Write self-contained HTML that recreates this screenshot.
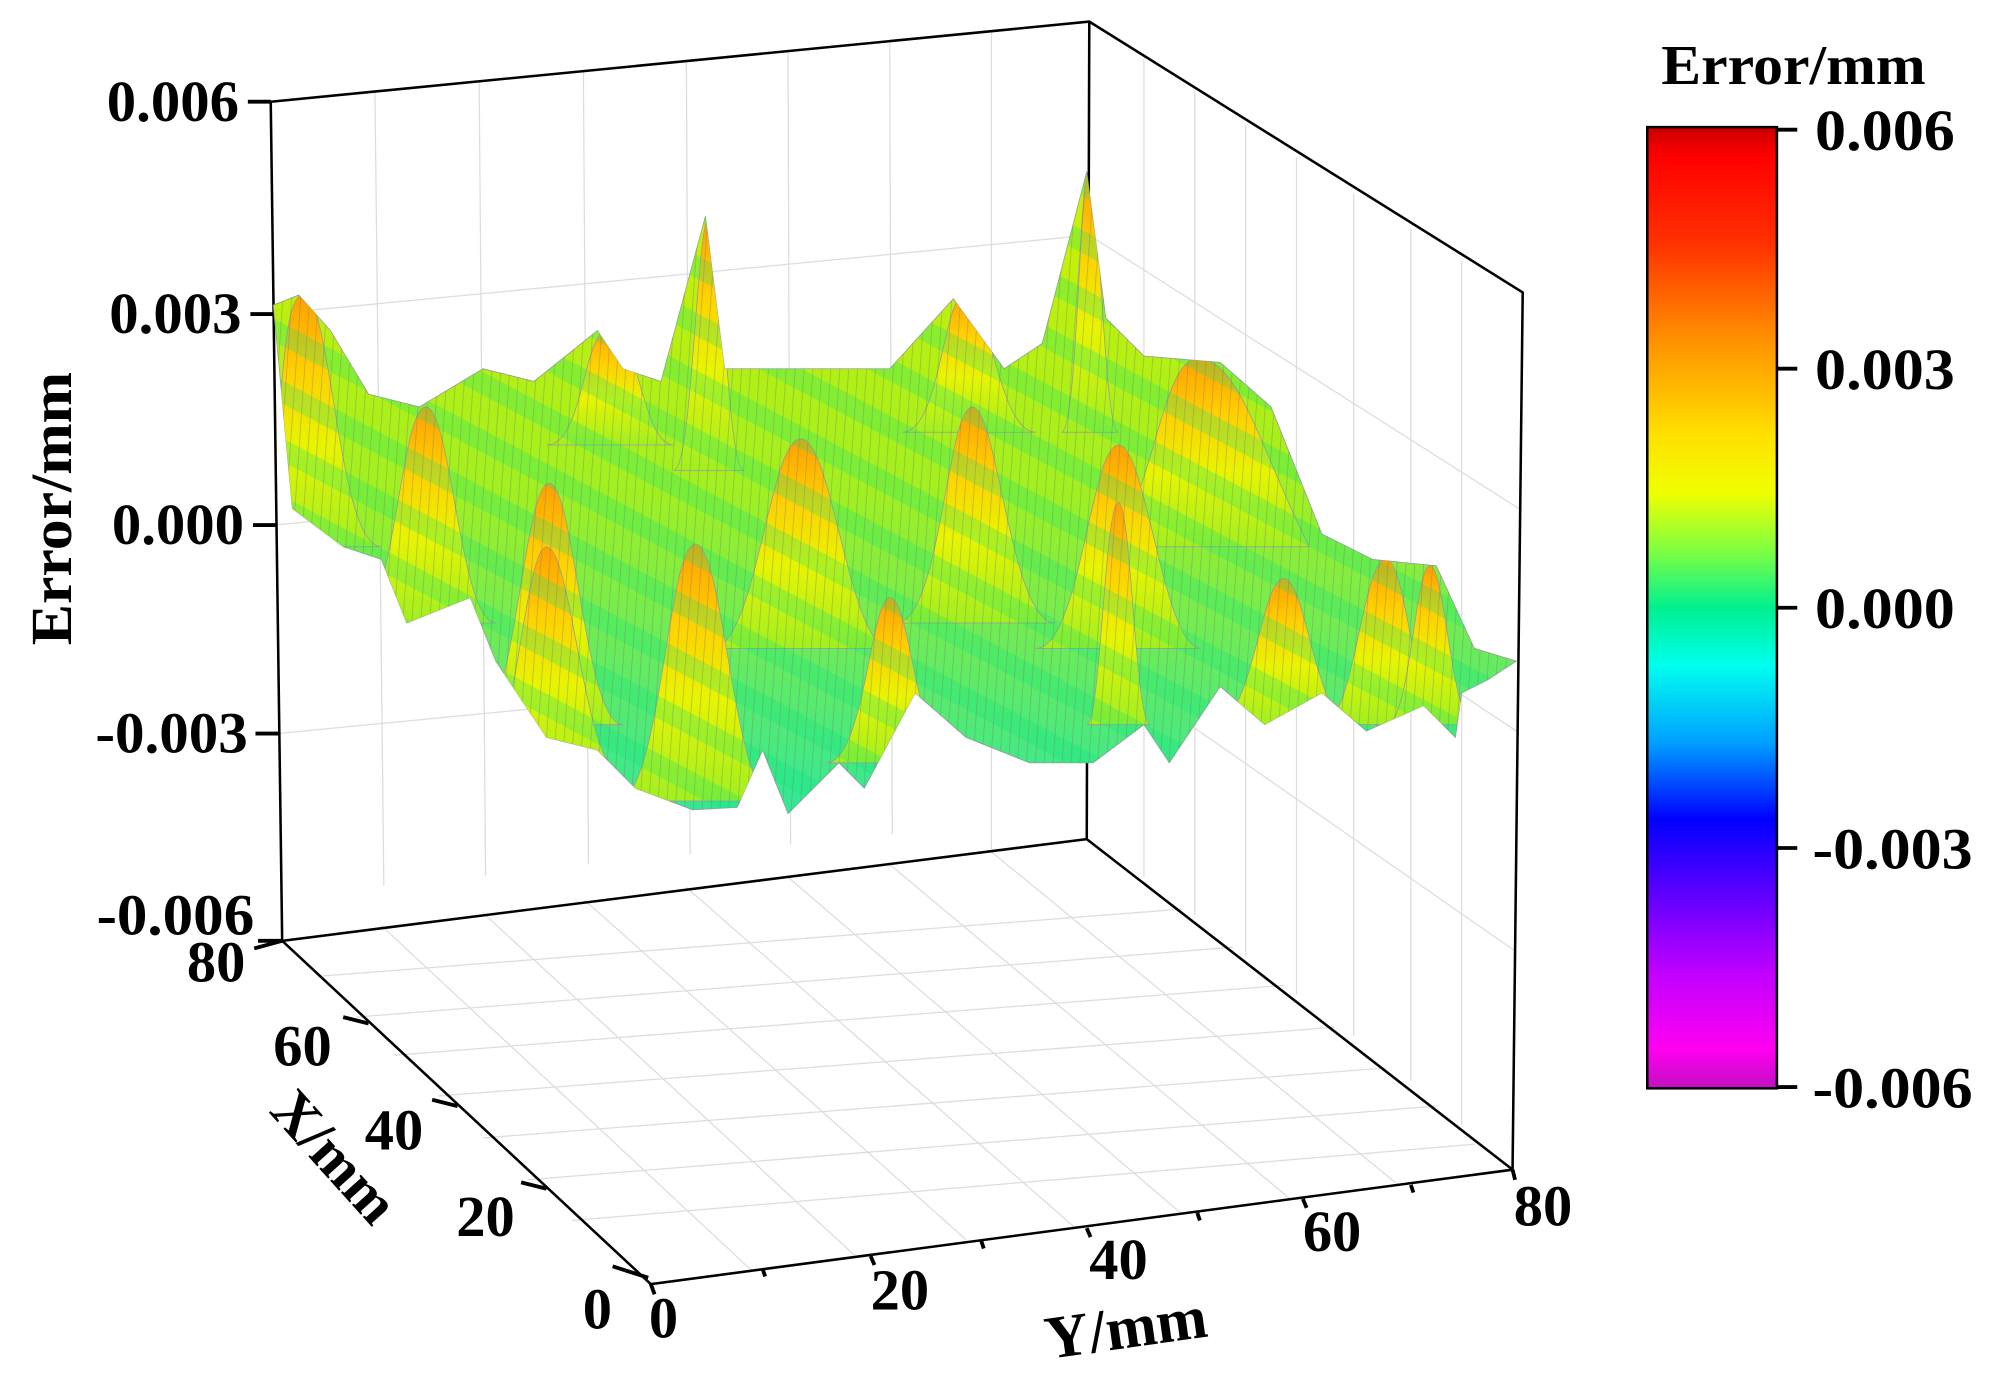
<!DOCTYPE html>
<html><head><meta charset="utf-8"><style>
html,body{margin:0;padding:0;background:#fff}
svg{display:block}
text{font-family:"Liberation Serif",serif;font-weight:bold;fill:#000}
</style></head><body>
<svg width="1993" height="1382" viewBox="0 0 1568 1087" preserveAspectRatio="none" xmlns="http://www.w3.org/2000/svg">
<defs>
<linearGradient id="cb" x1="0" y1="0" x2="0" y2="1">
<stop offset="0" stop-color="#c80000"/><stop offset="0.03" stop-color="#ff0000"/>
<stop offset="0.12" stop-color="#ff3000"/><stop offset="0.22" stop-color="#ff9000"/>
<stop offset="0.32" stop-color="#ffe000"/><stop offset="0.38" stop-color="#f0ff00"/>
<stop offset="0.44" stop-color="#80ff40"/><stop offset="0.5" stop-color="#00f090"/>
<stop offset="0.56" stop-color="#00ffee"/><stop offset="0.64" stop-color="#00a0ff"/>
<stop offset="0.72" stop-color="#0000ff"/><stop offset="0.8" stop-color="#6000ff"/>
<stop offset="0.88" stop-color="#c000ff"/><stop offset="0.96" stop-color="#ff00f0"/>
<stop offset="1" stop-color="#c010c0"/>
</linearGradient>
<linearGradient id="sf" x1="0" y1="0" x2="0" y2="1">
<stop offset="0" stop-color="#d0f000"/><stop offset="0.5" stop-color="#a0f020"/><stop offset="1" stop-color="#30e898"/>
</linearGradient>
<linearGradient id="pk" x1="0" y1="0" x2="0" y2="1">
<stop offset="0" stop-color="#ffa000"/><stop offset="0.3" stop-color="#ffd000"/><stop offset="0.6" stop-color="#e8f400"/><stop offset="1" stop-color="#a0f020"/>
</linearGradient>
<pattern id="bands" width="40" height="40" patternUnits="userSpaceOnUse" patternTransform="rotate(28)">
<rect width="40" height="16" fill="#00e880" opacity="0.25"/>
</pattern>
<pattern id="vl" width="7" height="20" patternUnits="userSpaceOnUse" patternTransform="rotate(4)">
<rect width="0.7" height="20" fill="#777" opacity="0.4"/>
</pattern>
<clipPath id="sc"><path id="surf" d="M215,240 L235,232 L260,260 L290,310 L330,320 L380,290 L420,300 L470,260 L490,290 L520,300 L555,170 L570,290 L620,290 L700,290 L750,235 L790,290 L820,270 L855,135 L870,250 L900,280 L960,285 L1000,320 L1040,420 L1080,440 L1130,445 L1160,510 L1193,520 L1170,535 L1150,545 L1145,580 L1120,555 L1075,575 L1040,545 L995,570 L960,540 L920,600 L900,570 L860,600 L810,600 L760,580 L720,545 L680,620 L660,600 L620,640 L600,590 L580,635 L545,637 L500,620 L470,590 L430,580 L390,520 L370,470 L320,490 L300,440 L270,430 L230,400 Z"/></clipPath>
</defs>
<g stroke="#ddd" stroke-width="1" fill="none">
<path d="M295,72 L302,697 M377,64 L382,689 M459,56 L463,680 M540,48 L543,672 M620,40 L622,664 M700,32 L702,656 M780,25 L780,668"/>
<path d="M900,45 L900,690 M940,72 L940,720 M980,98 L980,752 M1020,124 L1020,782 M1065,152 L1065,815 M1110,180 L1110,850 M1150,205 L1150,885"/>
<path d="M213,247 L857,185 L1195,400 M215,413 L857,352 L1193,575 M218,577 L857,515 L1192,748"/>
<path d="M300,728 L590,998 M380,718 L672,987 M460,708 L760,975 M540,698 L845,965 M620,690 L930,955 M700,680 L1015,943 M780,670 L1100,932"/>
<path d="M250,768 L930,715 M280,800 L970,745 M310,830 L1010,775 M345,862 L1050,808 M380,895 L1090,840 M415,928 L1130,870 M450,960 L1160,900"/>
</g>
<g stroke="#000" stroke-width="2" fill="none">
<path d="M213,80 L857,17 L1198,230 L1190,920"/>
<path d="M857,17 L855,660 L1190,920"/>
<path d="M855,660 L222,740"/>
<path d="M213,80 L222,740 L512,1010 L1190,920"/>
</g>
<g stroke="#000" stroke-width="3">
<path d="M195,80 H213 M197,247 H215 M199,413 H217 M201,577 H219 M203,740 H222"/>
<path d="M222,740 L200,746 M270,800 L290,805 M340,865 L360,870 M410,930 L430,935 M482,996 L510,1005"/>
<path d="M512,1010 L515,1018 M600,998 L602,1004 M685,988 L688,995 M772,976 L774,982 M855,966 L858,973 M942,954 L944,960 M1025,943 L1028,950 M1110,932 L1112,938 M1190,920 L1192,928"/>
</g>
<use href="#surf" fill="url(#sf)" stroke="#999" stroke-width="0.6"/>
<g clip-path="url(#sc)">
<g fill="url(#pk)" stroke="#999" stroke-width="0.6">
<path d="M195,430 C225,430 215,232 238,232 C262,232 265,430 300,430 Z"/>
<path d="M430,350 C460,350 458,258 480,258 C502,258 505,350 530,350 Z"/>
<path d="M530,370 C545,370 548,170 558,170 C568,170 572,370 585,370 Z"/>
<path d="M710,340 C740,340 742,230 760,230 C778,230 785,340 815,340 Z"/>
<path d="M835,340 C848,340 849,135 857,135 C865,135 868,340 880,340 Z"/>
<path d="M860,430 C905,430 910,282 942,282 C975,282 990,350 1030,430 Z"/>
<path d="M280,490 C310,490 315,320 335,320 C355,320 362,490 390,490 Z"/>
<path d="M560,510 C595,510 605,345 630,345 C655,345 668,510 700,510 Z"/>
<path d="M705,490 C740,490 745,320 765,320 C785,320 795,490 830,490 Z"/>
<path d="M815,510 C850,510 858,350 880,350 C902,350 915,510 945,510 Z"/>
<path d="M375,570 C405,570 412,380 432,380 C452,380 460,570 490,570 Z"/>
<path d="M1040,570 C1065,570 1072,440 1090,440 C1108,440 1112,570 1135,570 Z"/>
<path d="M1090,570 C1110,570 1113,445 1125,445 C1137,445 1142,570 1160,570 Z"/>
<path d="M375,610 C405,610 412,430 430,430 C450,430 460,610 490,610 Z"/>
<path d="M485,630 C520,630 525,428 547,428 C570,428 577,630 610,630 Z"/>
<path d="M650,600 C680,600 685,470 700,470 C717,470 722,600 750,600 Z"/>
<path d="M955,570 C985,570 992,455 1010,455 C1028,455 1035,570 1065,570 Z"/>
<path d="M855,570 C866,570 869,395 880,395 C890,395 893,570 905,570 Z"/>
</g>
<rect x="200" y="120" width="1000" height="540" fill="url(#bands)"/>
<rect x="200" y="120" width="1000" height="540" fill="url(#vl)"/>
</g>
<rect x="1296" y="100" width="102" height="756" fill="url(#cb)" stroke="#000" stroke-width="2"/>
<g stroke="#000" stroke-width="3"><path d="M1398,102 H1414 M1398,290 H1414 M1398,478 H1414 M1398,667 H1414 M1398,855 H1414"/></g>
<g font-size="46">
<text x="1428" y="118" textLength="110" lengthAdjust="spacingAndGlyphs">0.006</text>
<text x="1428" y="306" textLength="110" lengthAdjust="spacingAndGlyphs">0.003</text>
<text x="1428" y="494" textLength="110" lengthAdjust="spacingAndGlyphs">0.000</text>
<text x="1426" y="683" textLength="126" lengthAdjust="spacingAndGlyphs">-0.003</text>
<text x="1426" y="871" textLength="126" lengthAdjust="spacingAndGlyphs">-0.006</text>
<text x="1307" y="66" font-size="44" textLength="208" lengthAdjust="spacingAndGlyphs">Error/mm</text>
</g>
<g font-size="46">
<text x="84" y="95" textLength="104" lengthAdjust="spacingAndGlyphs">0.006</text>
<text x="86" y="262" textLength="104" lengthAdjust="spacingAndGlyphs">0.003</text>
<text x="88" y="428" textLength="104" lengthAdjust="spacingAndGlyphs">0.000</text>
<text x="75" y="592" textLength="120" lengthAdjust="spacingAndGlyphs">-0.003</text>
<text x="76" y="735" textLength="124" lengthAdjust="spacingAndGlyphs">-0.006</text>
</g>
<g font-size="46" text-anchor="middle">
<text x="170" y="772">80</text><text x="238" y="838">60</text><text x="310" y="904">40</text><text x="382" y="972">20</text><text x="470" y="1045">0</text>
<text x="522" y="1052">0</text><text x="708" y="1030">20</text><text x="880" y="1006">40</text><text x="1048" y="984">60</text><text x="1214" y="964">80</text>
</g>
<text font-size="46" transform="translate(56,400) rotate(-90)" text-anchor="middle" textLength="215" lengthAdjust="spacingAndGlyphs">Error/mm</text>
<text font-size="46" transform="translate(252,920) rotate(48)" text-anchor="middle">X/mm</text>
<text font-size="48" transform="translate(888,1060) rotate(-8)" text-anchor="middle">Y/mm</text>
</svg>
</body></html>
